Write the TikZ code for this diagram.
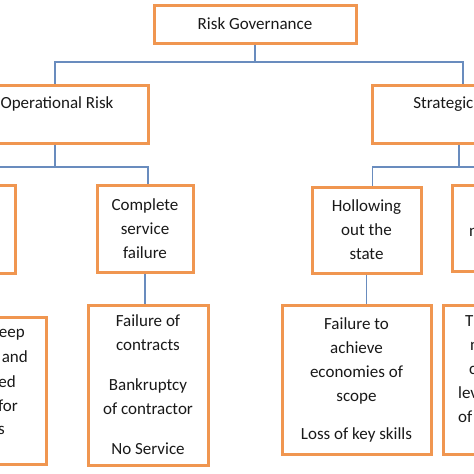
\documentclass[tikz,border=0pt]{standalone}
\usepackage{fontspec}
\setmainfont{Carlito}
\definecolor{bo}{RGB}{240,150,80}
\definecolor{ln}{RGB}{105,140,190}
\definecolor{txt}{RGB}{25,25,25}
\begin{document}
\begin{tikzpicture}[x=1pt,y=-1pt,
  box/.style={draw=bo,line width=3pt,fill=white,inner sep=0pt,align=center,
    font=\fontsize{17}{24}\selectfont,text=txt},
  lbl/.style={inner sep=0pt,font=\fontsize{17}{24}\selectfont,text=txt},
  conn/.style={draw=ln,line width=1.2pt}]
\useasboundingbox (0,0) rectangle (474,474);
% boxes
\node[box,minimum width=202pt,minimum height=38pt] (rg) at (255,24) {Risk Governance};
\node[box,minimum width=186pt,minimum height=58pt] (or) at (55,114) {};
\node[lbl] (ort) at (57,104) {Operational Risk};
\node[box,minimum width=182pt,minimum height=58pt] (sr) at (463,114) {};
\node[lbl] (srt) at (459,104) {Strategic Risk};
\node[box,minimum width=97pt,minimum height=88pt] (l1) at (-33.5,229) {};
\node[box,minimum width=96pt,minimum height=87pt] (csf) at (145,228.5) {Complete\\service\\failure};
\node[box,minimum width=160pt,minimum height=147pt] (b1) at (-34,390.5) {};
\node[box,minimum width=120pt,minimum height=160pt] (fc) at (148,385)
  {Failure of\\contracts\\[16pt]Bankruptcy\\of contractor\\[16pt]No Service};
\node[box,minimum width=109pt,minimum height=86pt] (hs) at (366.5,230) {Hollowing\\out the\\state};
\node[box,minimum width=110pt,minimum height=86pt] (r1) at (507,228) {};
\node[box,minimum width=149pt,minimum height=149pt] (fa) at (356.5,379.5)
  {Failure to\\achieve\\economies of\\scope\\[14pt]Loss of key skills};
\node[box,minimum width=149pt,minimum height=149pt] (r2) at (517.5,379.5) {};
% clipped texts
\node[lbl,anchor=base east] (b1a) at (25,337) {keep};
\node[lbl,anchor=base east] (b1b) at (28,362) {and};
\node[lbl,anchor=base east] (b1c) at (16,387) {needed};
\node[lbl,anchor=base east] (b1d) at (18,411) {for};
\node[lbl,anchor=base east] (b1e) at (5,434) {skills};
\node[lbl,anchor=base west] (r1a) at (469,236) {national};
\node[lbl,anchor=base west] (r2a) at (465,326) {The};
\node[lbl,anchor=base west] (r2b) at (470,350) {new};
\node[lbl,anchor=base west] (r2c) at (469,374) {cost};
\node[lbl,anchor=base west] (r2d) at (458,398) {levels};
\node[lbl,anchor=base west] (r2e) at (458,422) {of};
% connectors
\coordinate (j0) at (255,62);
\coordinate (j1) at (55,167);
\coordinate (j2) at (459,167);
\draw[conn] (rg.south) -- (j0);
\draw[conn] (or.north) |- (j0) -| (sr.north);
\draw[conn] (or.south) -- (j1);
\draw[conn] (l1.north) |- (j1) -| ([xshift=3pt]csf.north);
\draw[conn] ([xshift=-4pt]sr.south) -- (j2);
\draw[conn] ([xshift=6pt]hs.north) |- (j2) -| (r1.north);
\draw[conn] (csf.south) -- (csf.south |- fc.north);
\draw[conn] (hs.south) -- (hs.south |- fa.north);
\end{tikzpicture}
\end{document}
